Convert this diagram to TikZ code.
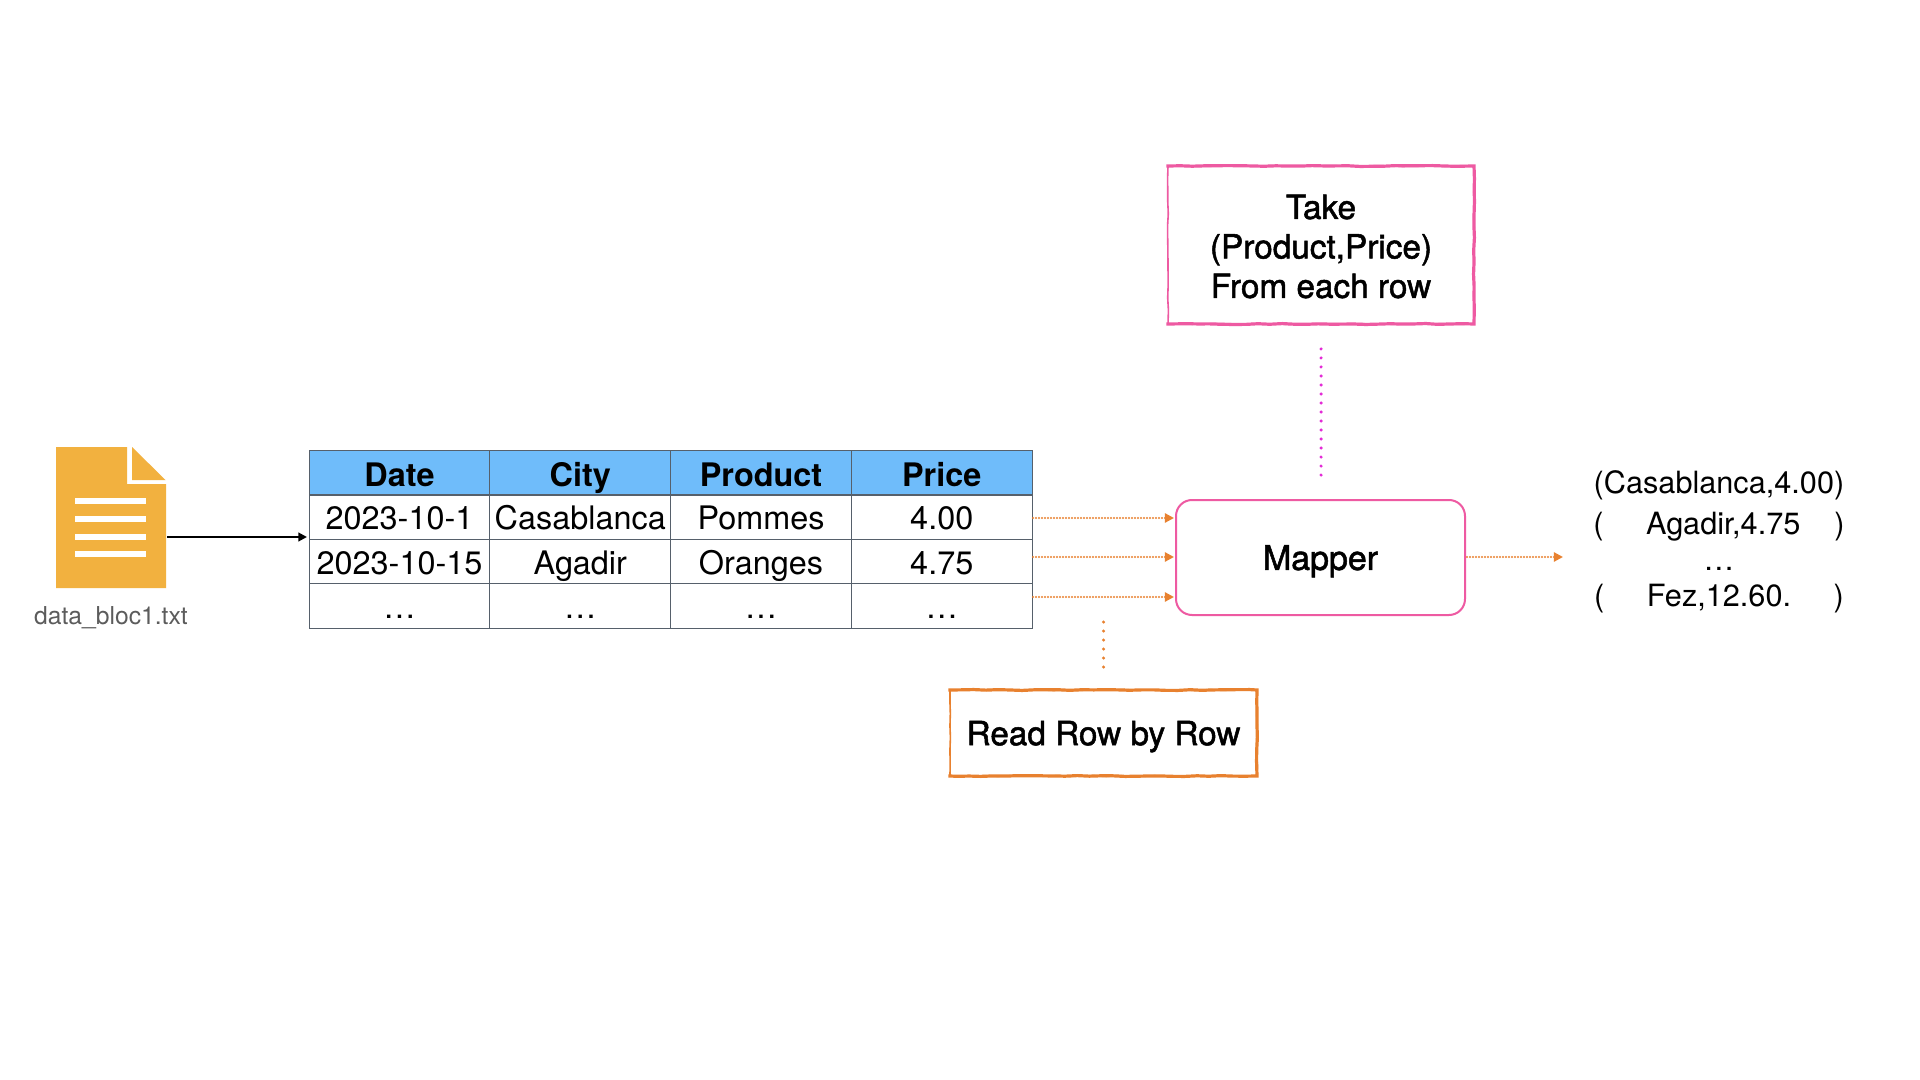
\documentclass[tikz,border=0pt]{standalone}
\usepackage{fontspec}
\setmainfont{TeX Gyre Heros}
\newfontfamily\medfont[FakeBold=1.5]{TeX Gyre Heros}
\usetikzlibrary{arrows.meta,decorations.pathmorphing}
\definecolor{hdrblue}{HTML}{6FBCFA}
\definecolor{gridc}{HTML}{56606B}
\definecolor{filec}{HTML}{F2B13F}
\definecolor{pinkc}{HTML}{EE5AA2}
\definecolor{orangec}{HTML}{E8812F}
\definecolor{magc}{HTML}{E32CD6}
\definecolor{labelc}{HTML}{5C5C5C}
\tikzset{
  x=0.75pt,y=-0.75pt,
  cell/.style={draw=gridc,line width=.85pt,minimum width=135.56pt,minimum height=33.2pt,inner sep=0pt,outer sep=0pt,
    text height=19pt,text depth=0pt,font=\fontsize{24.3}{28}\selectfont},
  headcell/.style={cell,fill=hdrblue,text height=20.5pt,font=\fontsize{24.3}{28}\selectfont\bfseries},
  feed/.style={draw=orangec,line width=1.6pt,line cap=round,dash pattern=on 0pt off 2.25pt,
    -{Triangle[length=6.8pt,width=6.8pt,fill=orangec,sep=0pt]}},
  notedots/.style={line width=2.6pt,line cap=round,dash pattern=on 0pt off 6.75pt},
  sketchy/.style={decorate,decoration={random steps,segment length=9pt,amplitude=.35pt}},
  notebox/.style={line width=1.2pt,sketchy,inner sep=0pt,outer sep=0pt,align=center,
    font=\fontsize{25}{29.6}\selectfont\medfont},
  thickedge/.style={line width=2.4pt,line cap=rect,sketchy},
  filebar/.style={draw=white,line width=5.2pt},
}
\begin{document}
\begin{tikzpicture}
\pgfmathsetseed{7}
\useasboundingbox (0,0) rectangle (1920,1080);
\fill[white] (0,0) rectangle (1920,1080);

% file icon
\node[minimum width=82.5pt,minimum height=105.75pt,inner sep=0pt,outer sep=0pt] (file) at (111,517.5) {};
\fill[filec] (file.north west) -- (127,447) -- (127,484) -- (166,484) -- (file.south east) -- (file.south west) -- cycle;
\fill[filec] (132,447) -- (165.5,480) -- (132,480) -- cycle;
\draw[filebar] (75,501) -- (146,501);
\draw[filebar] (75,519) -- (146,519);
\draw[filebar] (75,537) -- (146,537);
\draw[filebar] (75,554) -- (146,554);
\node[text=labelc,font=\fontsize{18.5}{22}\selectfont,inner sep=0pt] (filename) at (111,618) {data\_bloc1.txt};

% table
\node[headcell] (h1) at (399.5,473) {Date};
\node[headcell] (h2) at (580.25,473) {City};
\node[headcell] (h3) at (761,473) {Product};
\node[headcell] (h4) at (941.75,473) {Price};
\node[cell] (a1) at (399.5,517) {2023-10-1};
\node[cell] (a2) at (580.25,517) {Casablanca};
\node[cell] (a3) at (761,517) {Pommes};
\node[cell] (a4) at (941.75,517) {4.00};
\node[cell] (b1) at (399.5,561.5) {2023-10-15};
\node[cell] (b2) at (580.25,561.5) {Agadir};
\node[cell] (b3) at (761,561.5) {Oranges};
\node[cell] (b4) at (941.75,561.5) {4.75};
\node[cell] (c1) at (399.5,606) {…};
\node[cell] (c2) at (580.25,606) {…};
\node[cell] (c3) at (761,606) {…};
\node[cell] (c4) at (941.75,606) {…};

% mapper
\node[draw=pinkc,line width=1.5pt,rounded corners=12pt,minimum width=216.75pt,minimum height=86.25pt,
  inner sep=0pt,outer sep=0pt,text depth=0pt,font=\fontsize{25.5}{28}\selectfont\medfont] (mapper) at (1320.5,557.5) {Mapper};

% take note
\node[notebox,draw=pinkc,minimum width=229.5pt,minimum height=118.5pt] (take) at (1321,245)
  {\rule{0pt}{20.5pt}Take\\(Product,Price)\\From each row};
\draw[thickedge,draw=pinkc] (take.north west) -- (take.north east) -- (take.south east) -- (take.south west);

% read note
\node[notebox,draw=orangec,minimum width=230.25pt,minimum height=64.5pt,text depth=0pt] (read) at (1103.5,733)
  {Read Row by Row};
\draw[thickedge,draw=orangec] (read.north west) -- (read.north east) -- (read.south east) -- (read.south west);

% output
\node[align=center,inner sep=0pt,font=\fontsize{23}{27}\selectfont] (out) at (1719,541.5)
  {(Casablanca,4.00)\\[3.5pt]
   (~~~~~Agadir,4.75~~~~)\\
   …\\
   (~~~~~Fez,12.60.~~~~~)};

% connectors
\coordinate (fileport) at (167,537);
\coordinate (tableport) at (307,537);
\draw[draw=black,line width=1.5pt,-{Triangle[length=6.5pt,width=6.5pt]}] (fileport) -- (tableport);

\coordinate (r1s) at (1033,518); \coordinate (r1e) at (1174,518);
\coordinate (r2s) at (1033,557); \coordinate (r2e) at (1174,557);
\coordinate (r3s) at (1033,597); \coordinate (r3e) at (1174,597);
\draw[feed] (r1s) -- (r1e);
\draw[feed] (r2s) -- (r2e);
\draw[feed] (r3s) -- (r3e);
\coordinate (outs) at (1467,557); \coordinate (oute) at (1563,557);
\draw[feed] (outs) -- (oute);

\coordinate (takedotA) at (1321,349); \coordinate (takedotB) at (1321,475.5);
\draw[notedots,draw=magc] (takedotA) -- (takedotB);
\coordinate (readdotA) at (1103.5,622); \coordinate (readdotB) at (1103.5,667.5);
\draw[notedots,draw=orangec] (readdotA) -- (readdotB);
\end{tikzpicture}
\end{document}
